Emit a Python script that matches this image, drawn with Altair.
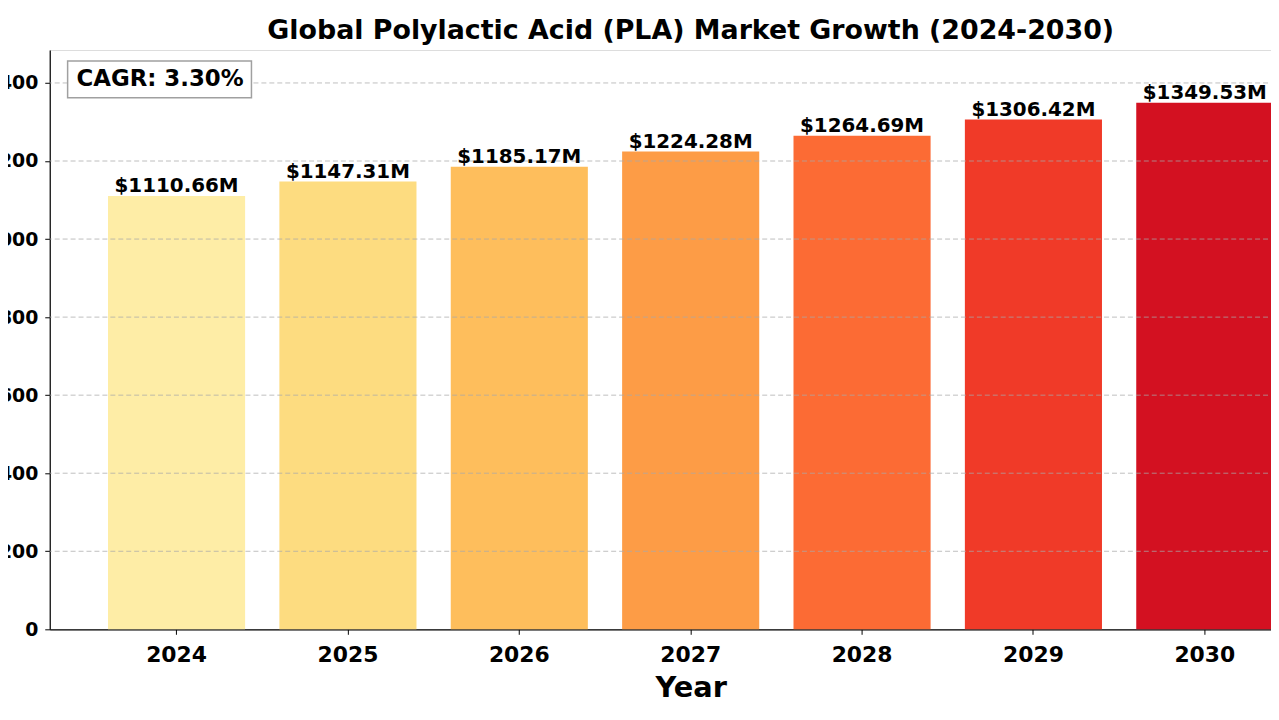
import altair as alt
import pandas as pd

years = ["2024", "2025", "2026", "2027", "2028", "2029", "2030"]
values = [1110.66, 1147.31, 1185.17, 1224.28, 1264.69, 1306.42, 1349.53]
colors = ["#FEEDA6", "#FDDC80", "#FEBE5C", "#FD9C46", "#FC6B34", "#F03A28", "#D31121"]
y_ticks = [0, 200, 400, 600, 800, 1000, 1200, 1400]
cagr_text = "CAGR: 3.30%"
title_text = "Global Polylactic Acid (PLA) Market Growth (2024-2030)"

df = pd.DataFrame({"Year": years, "Value": values})
df["Label"] = ["$" + f"{v:.2f}" + "M" for v in values]
grid_df = pd.DataFrame({"g": [t for t in y_ticks if t > 0]})

FONT = "DejaVu Sans"
ymax = max(values) * 1.1
y_scale = alt.Scale(domain=[0, ymax], nice=False, zero=True)

x_enc = alt.X(
    "Year:N",
    sort=years,
    scale=alt.Scale(paddingInner=0.2, paddingOuter=0.34),
    axis=alt.Axis(
        title="Year", titleFontSize=29, titleFontWeight="bold", titleFont=FONT,
        titleColor="black", titlePadding=9,
        labelFontSize=22, labelFontWeight="bold", labelFont=FONT, labelColor="black",
        labelAngle=0, labelPadding=10, tickSize=5, tickColor="black",
        domainColor="black", domainWidth=1.2, grid=False,
    ),
)
y_enc = alt.Y(
    "Value:Q",
    scale=y_scale,
    axis=alt.Axis(
        title=None, values=y_ticks, format="d",
        labelFontSize=19, labelFontWeight="bold", labelFont=FONT, labelColor="black",
        labelPadding=7, tickSize=5, tickColor="black",
        domainColor="black", domainWidth=1.2, grid=False,
    ),
)

base = alt.Chart(df)

bars = base.mark_bar().encode(
    x=x_enc,
    y=y_enc,
    color=alt.Color("Year:N", scale=alt.Scale(domain=years, range=colors), legend=None),
)

grid = alt.Chart(grid_df).mark_rule(
    color="#a8a8a8", strokeDash=[5, 3], strokeWidth=1, opacity=0.75
).encode(y=alt.Y("g:Q", scale=y_scale))

labels = base.mark_text(
    font=FONT, fontSize=20, fontWeight="bold", color="black",
    baseline="alphabetic", dy=-4,
).encode(x=alt.X("Year:N", sort=years), y="Value:Q", text="Label:N")

box = alt.Chart(pd.DataFrame({"t": [cagr_text]})).mark_rect(
    fill="white", stroke="#a0a0a0", strokeWidth=1.5
).encode(x=alt.value(18), x2=alt.value(203), y=alt.value(11), y2=alt.value(48))

box_text = alt.Chart(pd.DataFrame({"t": [cagr_text]})).mark_text(
    font=FONT, fontSize=23, fontWeight="bold", color="black",
    align="center", baseline="middle",
).encode(x=alt.value(111), y=alt.value(29), text="t:N")

chart = (
    alt.layer(bars, grid, labels, box, box_text)
    .properties(
        width=1290,
        height=583,
        title=alt.TitleParams(
            text=title_text, fontSize=27, font=FONT, fontWeight="bold",
            color="black", anchor="middle", offset=5, baseline="bottom", dy=27,
        ),
        autosize=alt.AutoSizeParams(type="none"),
        padding={"left": 42, "top": 40, "right": -61, "bottom": 89},
    )
    .configure_view(stroke="black", strokeWidth=1.2)
    .configure(background="white")
)

chart.save("out.html", embed_options={"renderer": "svg", "actions": False})
